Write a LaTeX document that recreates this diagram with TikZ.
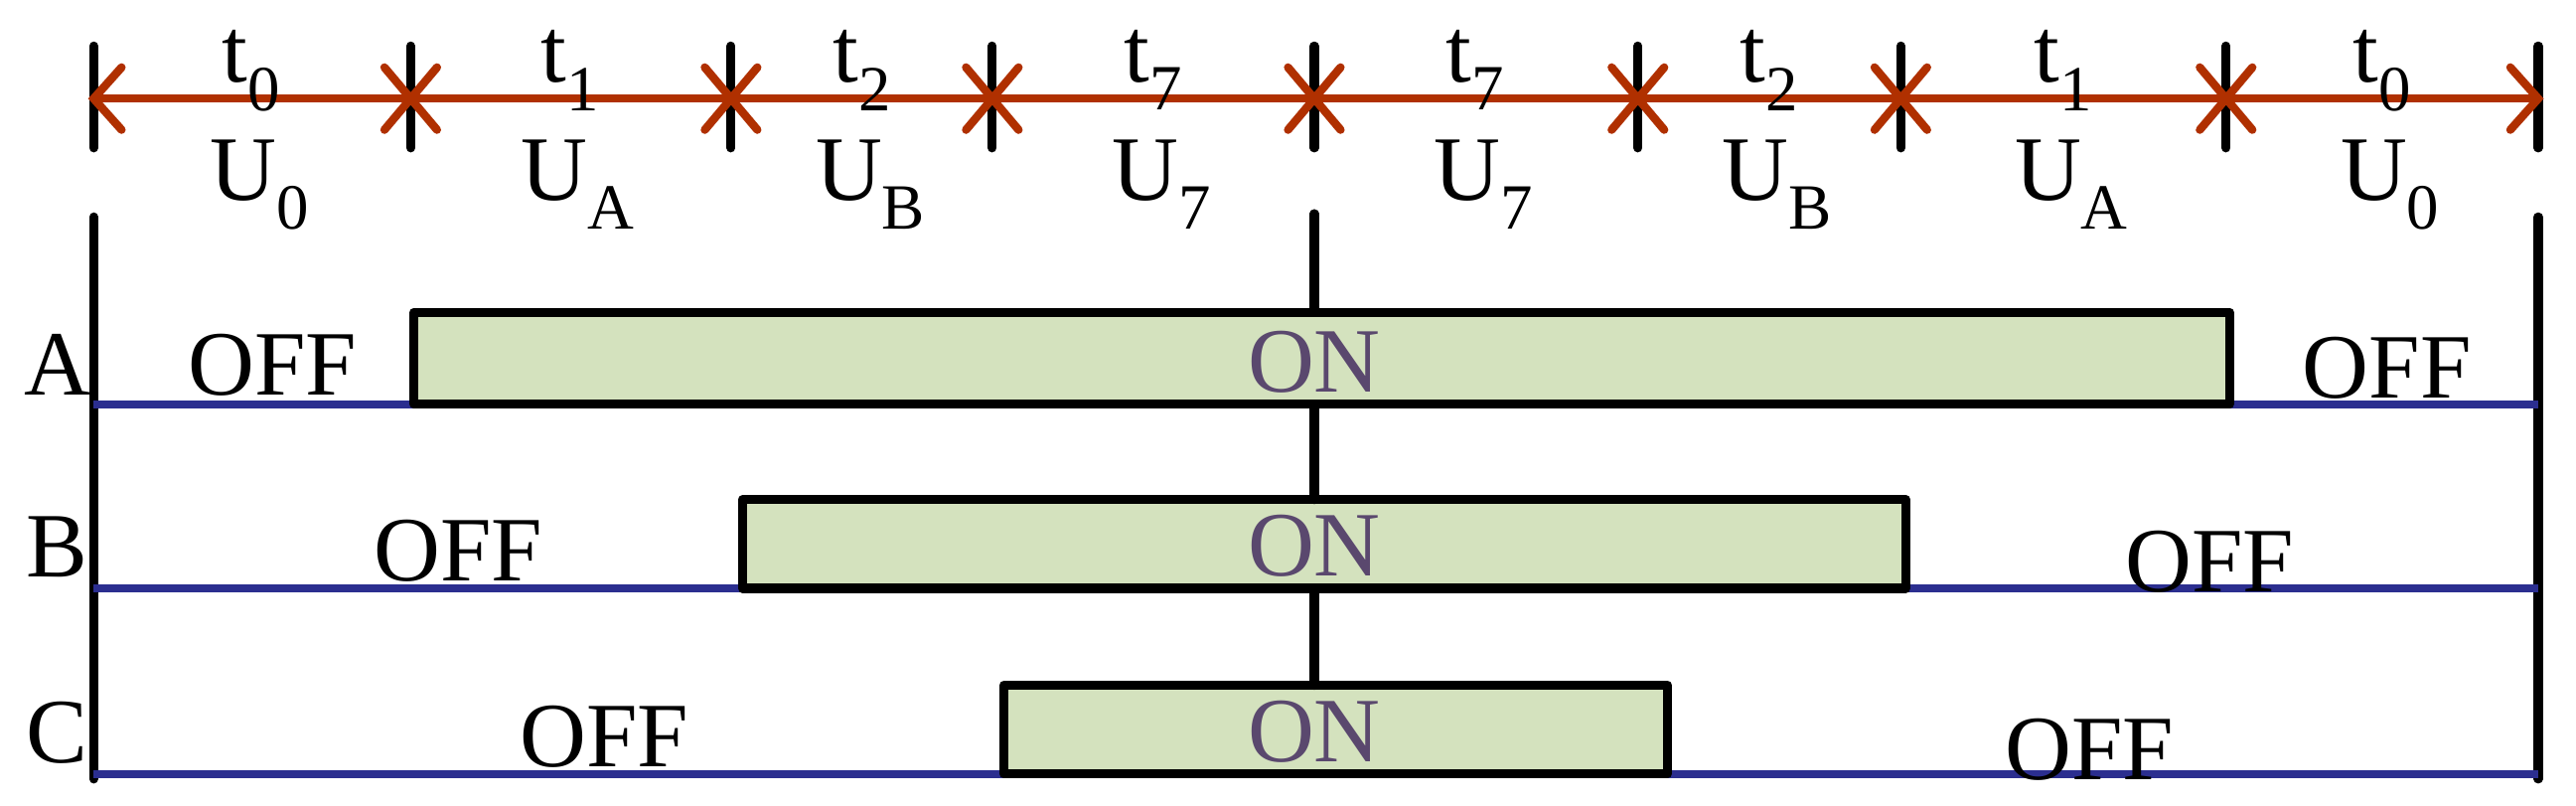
\documentclass[tikz,border=0pt]{standalone}
\usepackage{fontspec}
\setmainfont{Liberation Serif}
\begin{document}
\begin{tikzpicture}[x=1pt,y=-1pt,
  lbl/.style={font=\fontsize{56}{60}\selectfont, inner sep=0pt},
  red/.style={draw={rgb,255:red,176;green,48;blue,0}, line width=5pt, line cap=round},
  blk/.style={draw=black, line width=5.5pt, line cap=round},
  blu/.style={draw={rgb,255:red,43;green,46;blue,143}, line width=5pt},
  onbox/.style={draw=black, line width=5.5pt, fill={rgb,255:red,212;green,226;blue,190}, line join=round},
  ontxt/.style={lbl, text={rgb,255:red,90;green,72;blue,110}}]
\useasboundingbox (0,0) rectangle (1568,490);
% timeline
\coordinate (L) at (57,60); \coordinate (R) at (1545,60);
\draw[red] (L) -- (R);
\foreach \x in {57,250,445,604,800,997,1157,1355,1545}
  \draw[blk] (\x,28) -- (\x,90);
\foreach \x in {250,445,604,800,997,1157,1355}
  \draw[red] (\x-16,41) -- (\x+16,79) (\x-16,79) -- (\x+16,41);
\draw[red] (L) ++(17,-19) -- (L) -- ++(17,19);
\draw[red] (R) ++(-17,-19) -- (R) -- ++(-17,19);
\foreach \x/\t/\u in {153/0/0,347/1/A,525/2/B,702/7/7,898/7/7,1077/2/B,1256/1/A,1450/0/0}{
  \node[lbl, anchor=base] at (\x,50) {t\textsubscript{\t}};
  \node[lbl, anchor=base] at (\x+5,122) {U\textsubscript{\u}};
}
% verticals
\draw[blk] (57,132) -- (57,474);
\draw[blk] (1545,132) -- (1545,474);
\draw[blk] (800,132) -- (800,420);
% rows
\draw[blu] (57,246) -- (1545,246);
\draw[blu] (57,358) -- (1545,358);
\draw[blu] (57,471) -- (1545,471);
\draw[onbox] (252,190) rectangle (1357,246);
\draw[onbox] (452,304) rectangle (1160,358);
\draw[onbox] (611,417) rectangle (1015,471);
\draw[blk] (800,130) -- (800,190) (800,246) -- (800,304) (800,358) -- (800,417);
\node[ontxt] at (800,220) {ON};
\node[ontxt] at (800,332) {ON};
\node[ontxt] at (800,445) {ON};
\node[lbl] at (35,222) {A};
\node[lbl] at (35,333) {B};
\node[lbl] at (35,446) {C};
\node[lbl] at (166,222) {OFF};
\node[lbl] at (1453,224) {OFF};
\node[lbl] at (279,335) {OFF};
\node[lbl] at (1345,342) {OFF};
\node[lbl] at (368,448) {OFF};
\node[lbl] at (1272,456) {OFF};
\end{tikzpicture}
\end{document}
